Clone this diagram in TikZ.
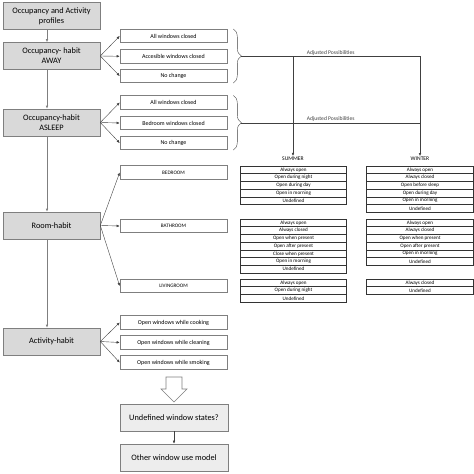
\documentclass[tikz,border=0pt]{standalone}
\usepackage{fontspec}
\setmainfont{Carlito}
\usetikzlibrary{arrows.meta,decorations.pathreplacing}
\definecolor{boxgray}{HTML}{D9D9D9}
\definecolor{lightbox}{HTML}{EDEDED}
\definecolor{edgegray}{HTML}{7F7F7F}
\definecolor{linegray}{HTML}{404040}
\tikzset{
  habit/.style={draw=edgegray, fill=boxgray, semithick, minimum width=97pt,
    minimum height=27pt, align=center, inner sep=1pt, font=\fontsize{8.3}{9.8}\selectfont},
  option/.style={draw=edgegray, fill=white, semithick, minimum width=107pt, minimum height=13.5pt,
    inner sep=0pt, font=\fontsize{6}{7}\selectfont},
  cell/.style={draw=black!80, semithick, minimum width=106.5pt, minimum height=7.7pt,
    inner sep=0pt, font=\fontsize{5.1}{5.5}\selectfont},
  small/.style={font=\fontsize{5.6}{6.5}\selectfont, inner sep=1pt},
  >={Latex[length=3pt,width=2.6pt]}
}
\begin{document}
\begin{tikzpicture}[x=1pt, y=-1pt]
\useasboundingbox (0,0) rectangle (474,474);

% habits on the left
\node[habit] (prof) at (51.5,16) {Occupancy and Activity\\profiles};
\node[habit] (away) at (51.5,56) {Occupancy- habit\\AWAY};
\node[habit] (asleep) at (51.5,122.5) {Occupancy-habit\\ASLEEP};
\node[habit] (room) at (51.5,225.5) {Room-habit};
\node[habit] (act) at (51.5,341.5) {Activity-habit};

\draw[->, edgegray, semithick] ([xshift=-4.5pt]prof.south) -- ([xshift=-4.5pt]away.north);
\draw[->, edgegray, semithick] ([xshift=-4.5pt]away.south) -- ([xshift=-4.5pt]asleep.north);
\draw[->, edgegray, semithick] ([xshift=-4.5pt]asleep.south) -- ([xshift=-4.5pt]room.north);
\draw[->, edgegray, semithick] ([xshift=-4.5pt]room.south) -- ([xshift=-4.5pt]act.north);

% options
\node[option] (a1) at (173.5,36) {All windows closed};
\node[option] (a2) at (173.5,56.3) {Accesible windows closed};
\node[option] (a3) at (173.5,76) {No change};
\node[option] (s1) at (173.5,102.5) {All windows closed};
\node[option] (s2) at (173.5,123) {Bedroom windows closed};
\node[option] (s3) at (173.5,143) {No change};
\node[option, font=\fontsize{5.2}{6}\selectfont] (r1) at (173.5,172.5) {BEDROOM};
\node[option, font=\fontsize{5.2}{6}\selectfont] (r2) at (173.5,226) {BATHROOM};
\node[option, font=\fontsize{5.2}{6}\selectfont] (r3) at (173.5,286) {LIVINGROOM};
\node[option] (c1) at (173.5,322.5) {Open windows while cooking};
\node[option] (c2) at (173.5,342.5) {Open windows while cleaning};
\node[option] (c3) at (173.5,362.5) {Open windows while smoking};

\foreach \n in {a1,a2,a3} \draw[->, linegray] (away.east) -- (\n.west);
\foreach \n in {s1,s2,s3} \draw[->, linegray] (asleep.east) -- (\n.west);
\foreach \n in {r1,r2,r3} \draw[->, linegray] (room.east) -- (\n.west);
\foreach \n in {c1,c2,c3} \draw[->, linegray] (act.east) -- (\n.west);

% braces and adjusted possibilities
\draw[linegray, decorate, decoration={brace, amplitude=8pt}]
  ([xshift=6pt]a1.north east) -- ([xshift=6pt]a3.south east);
\draw[linegray, decorate, decoration={brace, amplitude=8pt}]
  ([xshift=6pt]s1.north east) -- ([xshift=6pt]s3.south east);
\coordinate (adj1) at ([xshift=14pt]a2.east);
\coordinate (adj2) at ([xshift=14pt]s2.east);

\node[small] (slab) at (293,159) {SUMMER};
\node[small] (wlab) at (420,159) {WINTER};

\draw[linegray] (adj1) -- (adj1 -| wlab) node[small, midway, above] {Adjusted Possibilities};
\draw[linegray] (adj2) -- (adj2 -| wlab) node[small, midway, above] {Adjusted Possibilities};
\draw[->, linegray] (adj1 -| slab) -- (slab.north);
\draw[->, linegray] (adj1 -| wlab) -- (wlab.north);

% summer tables
\foreach \txt [count=\i] in {Always open, Open during night, Open during day, Open in morning, Undefined}
  \node[cell] (sa\i) at (293.5,{166+7.7*\i-3.85}) {\txt};
\foreach \txt [count=\i] in {Always open, Always closed, Open when present, Open after present,
    Close when present, Open in morning, Undefined}
  \node[cell] (sb\i) at (293.5,{219+7.7*\i-3.85}) {\txt};
\foreach \txt [count=\i] in {Always open, Open during night, Undefined}
  \node[cell] (sc\i) at (293.5,{279+7.7*\i-3.85}) {\txt};

% winter tables
\foreach \txt [count=\i] in {Always open, Always closed, Open before sleep, Open during day,
    Open in morning, Undefined}
  \node[cell] (wa\i) at (420,{166+7.7*\i-3.85}) {\txt};
\foreach \txt [count=\i] in {Always open, Always closed, Open when present, Open after present,
    Open in morning, Undefined}
  \node[cell] (wb\i) at (420,{219+7.7*\i-3.85}) {\txt};
\foreach \txt [count=\i] in {Always closed, Undefined}
  \node[cell] (wc\i) at (420,{279+7.7*\i-3.85}) {\txt};

% hollow arrow and last steps
\draw[edgegray, semithick, fill=white] (166,377) -- (182,377) -- (182,389) -- (187,389) -- (174,402)
  -- (161,389) -- (166,389) -- cycle;
\node[habit, fill=lightbox, minimum width=108pt] (undef) at (174,417.5) {Undefined window states?};
\node[habit, fill=lightbox, minimum width=108pt] (other) at (174,457.5) {Other window use model};
\draw[->, linegray] (undef) -- (other);
\end{tikzpicture}
\end{document}
